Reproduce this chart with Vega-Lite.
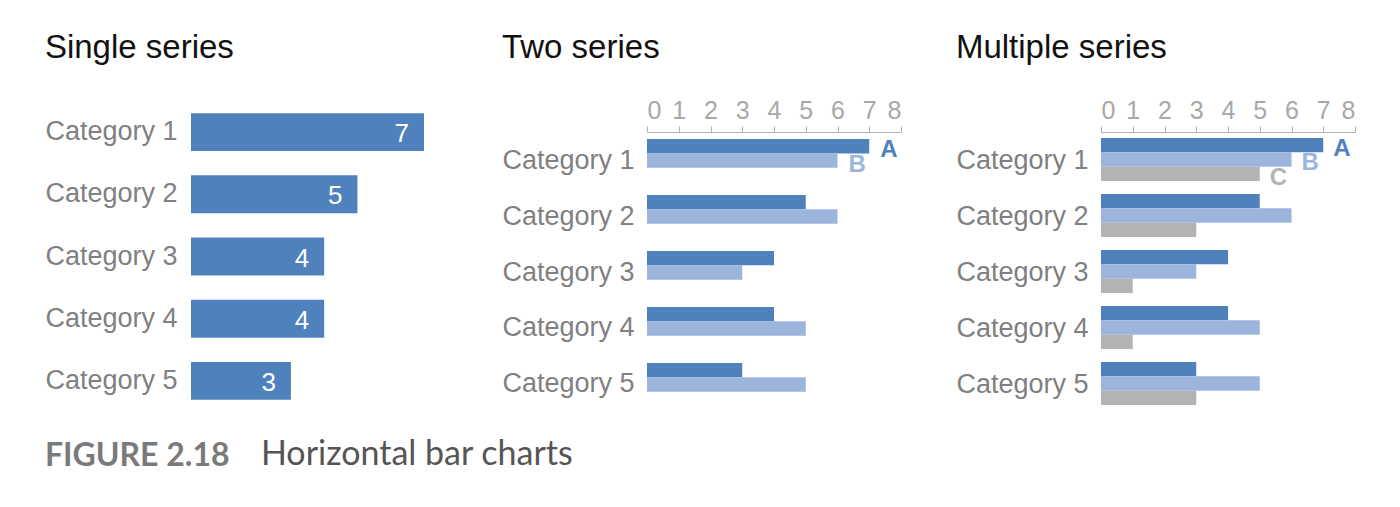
{
  "$schema": "https://vega.github.io/schema/vega-lite/v6.json",
  "padding": {"left": 44, "top": 32, "right": 5, "bottom": 5},
  "background": "white",
  "config": {
    "view": {"stroke": null},
    "font": "Liberation Sans",
    "title": {"font": "Liberation Sans", "fontSize": 33, "fontWeight": "normal", "color": "#111111", "anchor": "start", "frame": "bounds", "offset": 36}
  },
  "datasets": {
    "single": [
      {"category": "Category 1", "value": 7},
      {"category": "Category 2", "value": 5},
      {"category": "Category 3", "value": 4},
      {"category": "Category 4", "value": 4},
      {"category": "Category 5", "value": 3}
    ],
    "multi": [
      {"category": "Category 1", "series": "A", "value": 7},
      {"category": "Category 1", "series": "B", "value": 6},
      {"category": "Category 1", "series": "C", "value": 5},
      {"category": "Category 2", "series": "A", "value": 5},
      {"category": "Category 2", "series": "B", "value": 6},
      {"category": "Category 2", "series": "C", "value": 3},
      {"category": "Category 3", "series": "A", "value": 4},
      {"category": "Category 3", "series": "B", "value": 3},
      {"category": "Category 3", "series": "C", "value": 1},
      {"category": "Category 4", "series": "A", "value": 4},
      {"category": "Category 4", "series": "B", "value": 5},
      {"category": "Category 4", "series": "C", "value": 1},
      {"category": "Category 5", "series": "A", "value": 3},
      {"category": "Category 5", "series": "B", "value": 5},
      {"category": "Category 5", "series": "C", "value": 3}
    ]
  },
  "title": {
    "text": "Horizontal bar charts",
    "orient": "bottom",
    "anchor": "start",
    "frame": "bounds",
    "font": "Lato",
    "fontSize": 34,
    "fontWeight": "normal",
    "color": "#555555",
    "dx": 216,
    "offset": -34
  },
  "vconcat": [
    {
      "title": {
        "text": "FIGURE 2.18",
        "orient": "bottom",
        "anchor": "start",
        "frame": "bounds",
        "font": "Lato",
        "fontSize": 32,
        "fontWeight": "bold",
        "color": "#7a7a7a",
        "offset": 29
      },
      "spacing": 53,
      "hconcat": [
        {
          "title": {"text": "Single series"},
          "width": 257,
          "height": 311,
          "data": {"name": "single"},
          "encoding": {
            "y": {
              "field": "category",
              "type": "nominal",
              "scale": {"paddingInner": 0.39, "paddingOuter": 0.195},
              "axis": {"title": null, "ticks": false, "domain": false, "labelFontSize": 27, "labelColor": "#808080", "labelPadding": 14}
            },
            "x": {"field": "value", "type": "quantitative", "scale": {"domain": [0, 7.72], "nice": false}, "axis": null}
          },
          "layer": [
            {"mark": {"type": "bar", "color": "#4f81bd"}},
            {
              "mark": {"type": "text", "align": "right", "dx": -15, "dy": 2, "color": "white", "fontSize": 26},
              "encoding": {"text": {"field": "value", "type": "quantitative"}}
            }
          ]
        },
        {
          "title": {"text": "Two series", "offset": 33},
          "width": 254,
          "height": 311,
          "data": {"name": "multi"},
          "transform": [{"filter": "datum.series !== 'C'"}],
          "encoding": {
            "y": {
              "field": "category",
              "type": "nominal",
              "scale": {"paddingInner": 0.23, "paddingOuter": 0.393, "align": 0.864},
              "axis": {"title": null, "ticks": false, "domain": false, "labelFontSize": 27, "labelColor": "#808080", "labelPadding": 13}
            },
            "yOffset": {"field": "series", "type": "nominal", "scale": {"paddingInner": 0, "paddingOuter": 0}},
            "x": {
              "field": "value",
              "type": "quantitative",
              "scale": {"domain": [0, 8]},
              "axis": {"orient": "top", "offset": -31, "title": null, "grid": false, "values": [0, 1, 2, 3, 4, 5, 6, 7, 8], "tickSize": 6, "tickColor": "#b0b0b0", "domainColor": "#b0b0b0", "labelFontSize": 25, "labelColor": "#a8a8a8", "labelPadding": 3}
            },
            "color": {"field": "series", "type": "nominal", "scale": {"domain": ["A", "B", "C"], "range": ["#4f81bd", "#9bb5dd", "#b3b3b3"]}, "legend": null}
          },
          "layer": [
            {"mark": {"type": "bar"}},
            {
              "transform": [{"filter": "datum.category === 'Category 1'"}],
              "mark": {"type": "text", "align": "left", "dx": 11, "dy": 4, "fontSize": 24, "fontWeight": "bold"},
              "encoding": {"text": {"field": "series", "type": "nominal"}}
            }
          ]
        },
        {
          "title": {"text": "Multiple series", "offset": 33},
          "width": 254,
          "height": 311,
          "data": {"name": "multi"},
          "encoding": {
            "y": {
              "field": "category",
              "type": "nominal",
              "scale": {"paddingInner": 0.18, "paddingOuter": 0.366, "align": 0.9},
              "axis": {"title": null, "ticks": false, "domain": false, "labelFontSize": 27, "labelColor": "#808080", "labelPadding": 13}
            },
            "yOffset": {"field": "series", "type": "nominal", "scale": {"paddingInner": 0, "paddingOuter": 0}},
            "x": {
              "field": "value",
              "type": "quantitative",
              "scale": {"domain": [0, 8]},
              "axis": {"orient": "top", "offset": -31, "title": null, "grid": false, "values": [0, 1, 2, 3, 4, 5, 6, 7, 8], "tickSize": 6, "tickColor": "#b0b0b0", "domainColor": "#b0b0b0", "labelFontSize": 25, "labelColor": "#a8a8a8", "labelPadding": 3}
            },
            "color": {"field": "series", "type": "nominal", "scale": {"domain": ["A", "B", "C"], "range": ["#4f81bd", "#9bb5dd", "#b3b3b3"]}, "legend": null}
          },
          "layer": [
            {"mark": {"type": "bar"}},
            {
              "transform": [{"filter": "datum.category === 'Category 1'"}],
              "mark": {"type": "text", "align": "left", "dx": 10, "dy": 4, "fontSize": 24, "fontWeight": "bold"},
              "encoding": {"text": {"field": "series", "type": "nominal"}}
            }
          ]
        }
      ]
    }
  ]
}
